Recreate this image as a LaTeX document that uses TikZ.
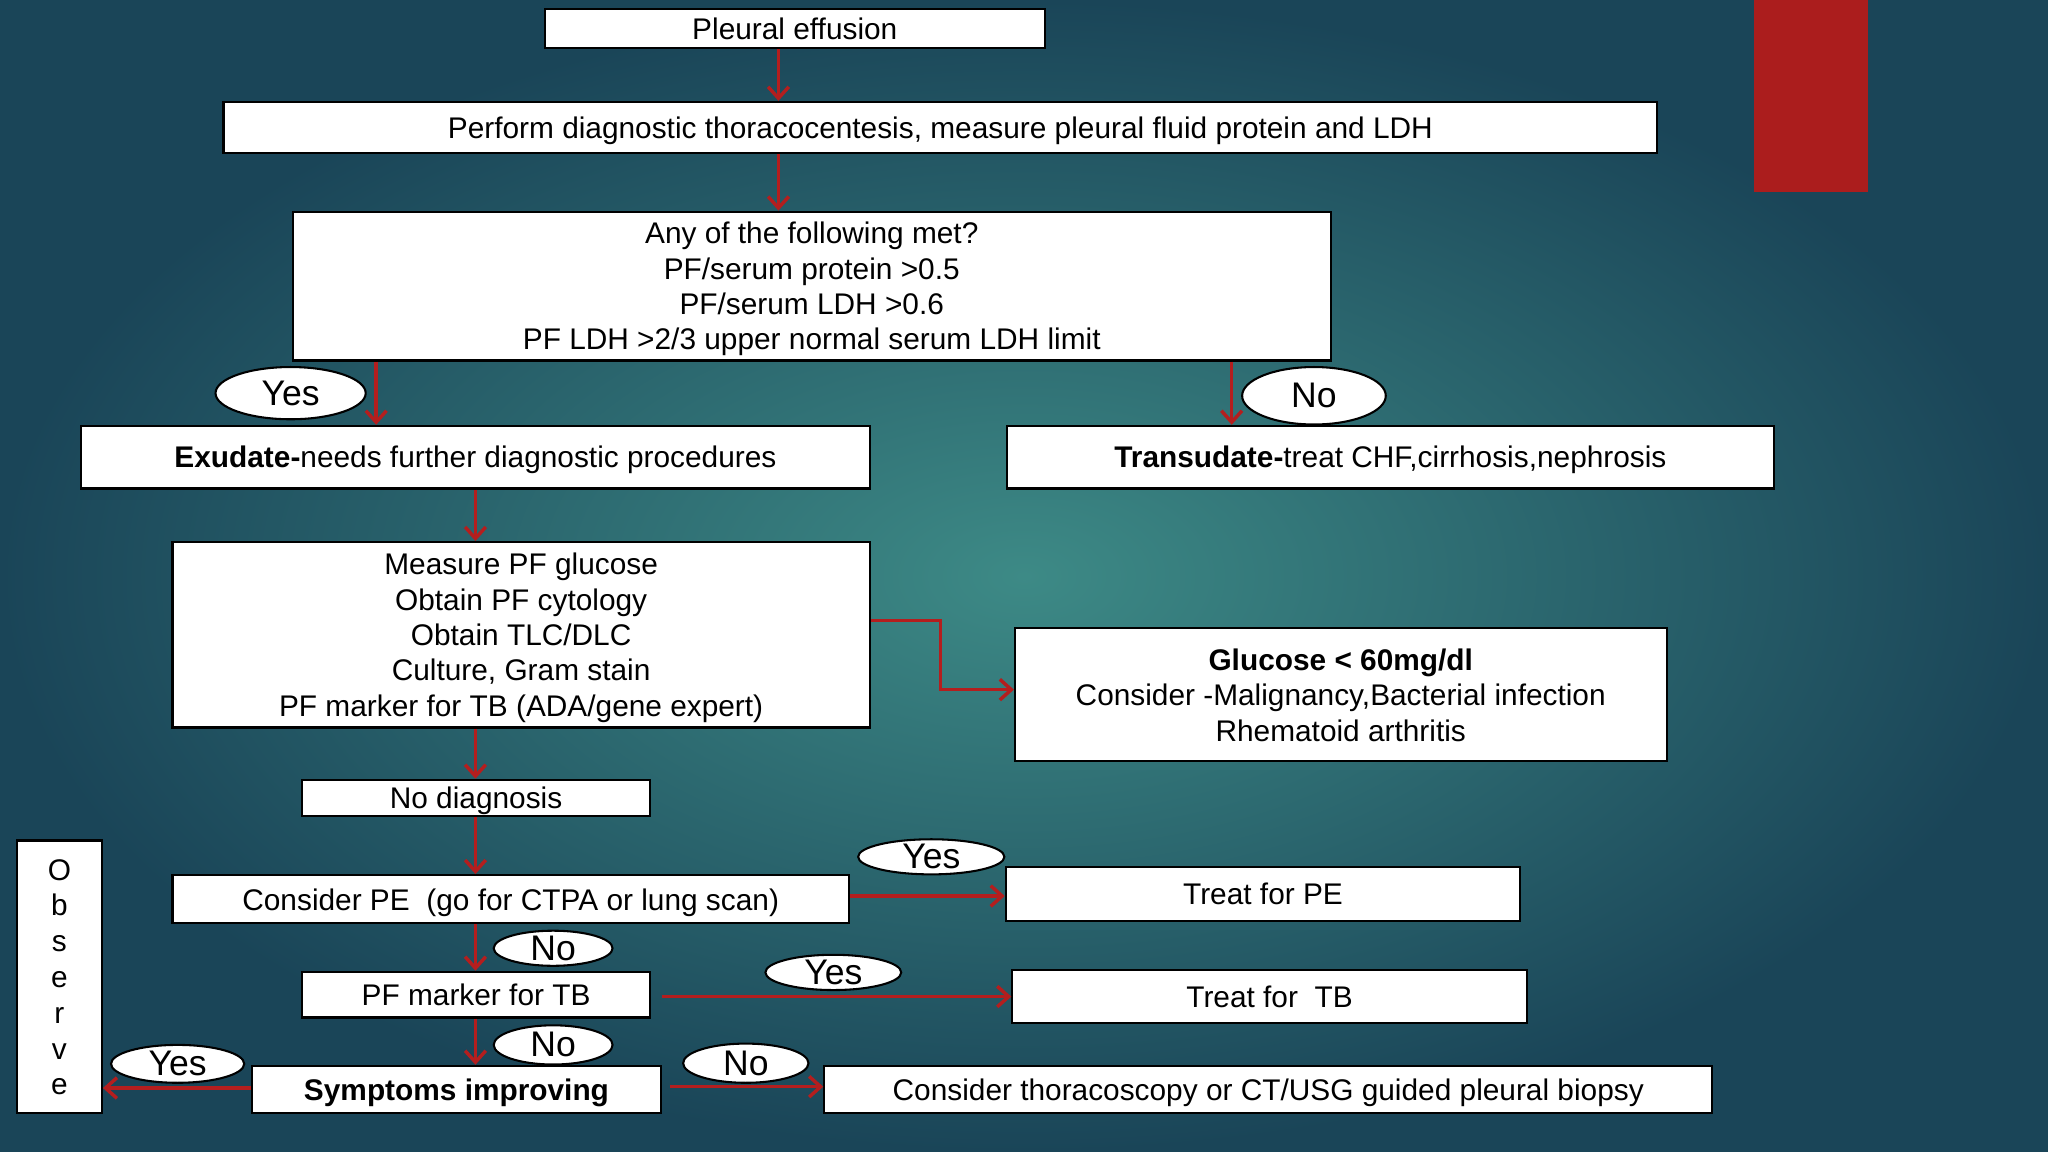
\documentclass[tikz,border=0pt]{standalone}
\usepackage{fontspec}
\setmainfont{Liberation Sans}
\usetikzlibrary{shapes.geometric,arrows.meta}
\definecolor{arrowred}{HTML}{B41E1E}
\definecolor{bgin}{HTML}{3D8A86}
\definecolor{bgout}{HTML}{1A4558}
\tikzset{
  box/.style={draw=black,fill=white,line width=0.9pt,align=center,inner sep=0pt,
    text depth=-2pt,font=\fontsize{13}{15.4}\selectfont},
  oval/.style={ellipse,draw=black,fill=white,line width=0.9pt,inner sep=0pt,
    font=\fontsize{15.5}{16}\selectfont},
  flow/.style={-{Straight Barb[length=5pt,width=9pt]},draw=arrowred,line width=1.5pt}
}
\begin{document}
\begin{tikzpicture}[x=0.02cm,y=-0.02cm]
  % background
  \shade[inner color=bgin,outer color=bgout] (0,0) rectangle (1568,882);
  \useasboundingbox (0,0) rectangle (1568,882);
  \fill[arrowred!95!black] (1343,0) rectangle (1430,147);

  % boxes
  \node[box,minimum width=7.66cm,minimum height=0.6cm] (pe) at (608.5,22) {Pleural effusion};
  \node[box,minimum width=21.96cm,minimum height=0.78cm] (thor) at (720,97.5)
    {Perform diagnostic thoracocentesis, measure pleural fluid protein and LDH};
  \node[box,minimum width=15.9cm,minimum height=2.28cm] (crit) at (621.5,219)
    {Any of the following met?\\PF/serum protein >0.5\\PF/serum LDH >0.6\\PF LDH >2/3 upper normal serum LDH limit};
  \node[box,minimum width=12.08cm,minimum height=0.96cm] (exu) at (364,350)
    {\textbf{Exudate-}needs further diagnostic procedures};
  \node[box,minimum width=11.74cm,minimum height=0.96cm] (tra) at (1064.5,350)
    {\textbf{Transudate-}treat CHF,cirrhosis,nephrosis};
  \node[box,minimum width=10.68cm,minimum height=2.84cm] (meas) at (399,486)
    {Measure PF glucose\\Obtain PF cytology\\Obtain TLC/DLC\\Culture, Gram stain\\PF marker for TB (ADA/gene expert)};
  \node[box,minimum width=9.98cm,minimum height=2.04cm] (glu) at (1026.5,532)
    {\textbf{Glucose < 60mg/dl}\\Consider -Malignancy,Bacterial infection\\Rhematoid arthritis};
  \node[box,minimum width=5.34cm,minimum height=0.56cm] (nod) at (364.5,611) {No diagnosis};
  \node[box,minimum width=10.36cm,minimum height=0.74cm] (cpe) at (391,688.5)
    {Consider PE\ \ (go for CTPA or lung scan)};
  \node[box,minimum width=7.88cm,minimum height=0.82cm] (tpe) at (967,684.5) {Treat for PE};
  \node[box,minimum width=5.34cm,minimum height=0.7cm] (tbm) at (364.5,761.5) {PF marker for TB};
  \node[box,minimum width=7.88cm,minimum height=0.8cm] (ttb) at (972,763) {Treat for\ \ TB};
  \node[box,minimum width=6.26cm,minimum height=0.72cm] (sym) at (349.5,834) {\textbf{Symptoms improving}};
  \node[box,minimum width=13.6cm,minimum height=0.72cm] (tho) at (971,834)
    {Consider thoracoscopy or CT/USG guided pleural biopsy};
  \node[box,minimum width=1.3cm,minimum height=4.18cm,font=\fontsize{13}{15.6}\selectfont] (obs) at (45.5,748)
    {O\\b\\s\\e\\r\\v\\e};

  % connectors
  \draw[flow] (pe.south -| 596,0) -- (thor.north -| 596,0);
  \draw[flow] (thor.south -| 596,0) -- (crit.north -| 596,0);
  \draw[flow] (crit.south -| 288,0) -- (exu.north -| 288,0);
  \draw[flow] (crit.south -| 943,0) -- (tra.north -| 943,0);
  \draw[flow] (exu.south -| 364,0) -- (meas.north -| 364,0);
  \draw[flow] (meas.east |- 0,475) -- (720,475) -- (720,528) -- (glu.west |- 0,528);
  \draw[flow] (meas.south -| 364,0) -- (nod.north -| 364,0);
  \draw[flow] (nod.south -| 364,0) -- (cpe.north -| 364,0);
  \draw[flow] (cpe.east |- 0,686) -- (tpe.west |- 0,686);
  \draw[flow] (cpe.south -| 364,0) -- (tbm.north -| 364,0);
  \draw[flow] ([xshift=0.16cm]tbm.east |- 0,763) -- (ttb.west |- 0,763);
  \draw[flow] (tbm.south -| 364,0) -- (sym.north -| 364,0);
  \draw[flow] (sym.west |- 0,833) -- (obs.east |- 0,833);
  \draw[flow] ([xshift=0.12cm]sym.east |- 0,832) -- (tho.west |- 0,832);

  % answer labels
  \node[oval,minimum width=2.3cm,minimum height=0.8cm] (yes1) at (222.5,301) {Yes};
  \node[oval,minimum width=2.2cm,minimum height=0.88cm] (no1) at (1006,303) {No};
  \node[oval,minimum width=2.24cm,minimum height=0.52cm] (yes2) at (713,656) {Yes};
  \node[oval,minimum width=1.82cm,minimum height=0.48cm] (no2) at (423.5,726) {No};
  \node[oval,minimum width=2.08cm,minimum height=0.54cm] (yes3) at (638,744.5) {Yes};
  \node[oval,minimum width=1.82cm,minimum height=0.6cm] (no3) at (423.5,800) {No};
  \node[oval,minimum width=2.04cm,minimum height=0.58cm] (yes4) at (136,814.5) {Yes};
  \node[oval,minimum width=1.92cm,minimum height=0.6cm] (no4) at (571,814) {No};
\end{tikzpicture}
\end{document}
